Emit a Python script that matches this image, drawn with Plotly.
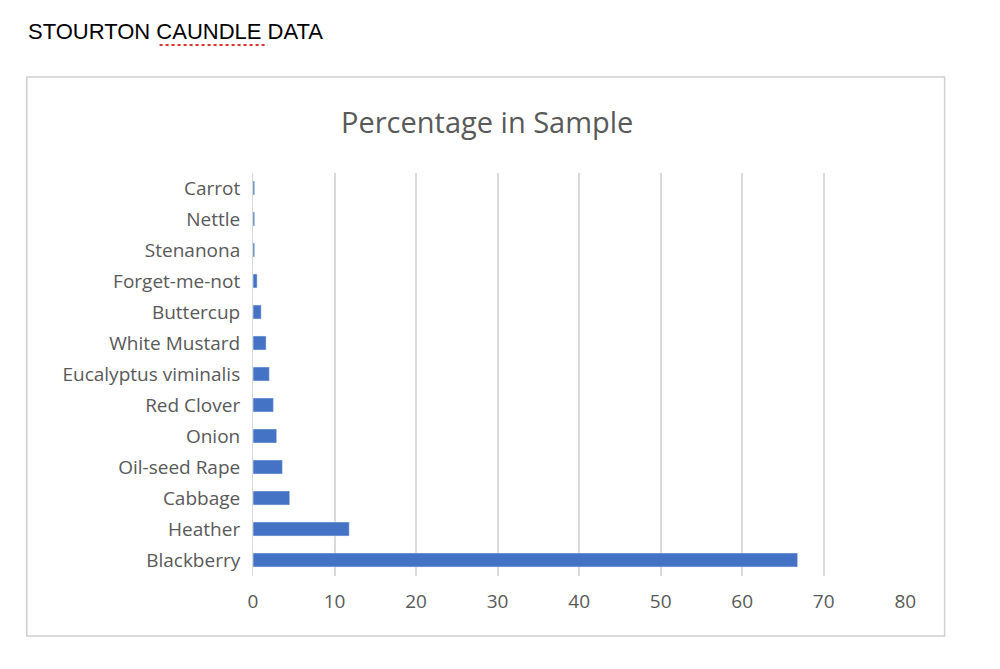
import plotly.graph_objects as go

categories = ["Blackberry", "Heather", "Cabbage", "Oil-seed Rape", "Onion", "Red Clover",
              "Eucalyptus viminalis", "White Mustard", "Buttercup", "Forget-me-not",
              "Stenanona", "Nettle", "Carrot"]
values = [66.8, 11.8, 4.5, 3.6, 2.9, 2.5, 2.0, 1.6, 1.0, 0.5, 0.2, 0.2, 0.2]
x_ticks = [0, 10, 20, 30, 40, 50, 60, 70, 80]

W, H = 984, 653
O = 8  # page offset


def px(x):
    return (x - O) / W


def py(y):
    return 1 - (y - O) / H


fig = go.Figure(go.Bar(x=values, y=categories, orientation="h",
                       marker_color="#4472C4", width=0.45))
fig.update_layout(
    width=W, height=H, margin=dict(l=0, r=0, t=0, b=0),
    paper_bgcolor="white", plot_bgcolor="white", showlegend=False,
    font=dict(family="Open Sans", color="#595959", size=19),
    xaxis=dict(domain=[px(252), px(915)], range=[0, 80], tickvals=x_ticks,
               showgrid=True, gridcolor="#d9d9d9", gridwidth=1.5, zeroline=False,
               ticks="", ticklabelstandoff=12, tickfont=dict(size=19, color="#595959")),
    yaxis=dict(domain=[py(575.5), py(172.5)], categoryorder="array",
               categoryarray=categories, showline=True, linecolor="#d9d9d9",
               ticks="", ticklabelstandoff=8, tickfont=dict(size=19, color="#595959")),
    shapes=[
        dict(type="rect", xref="paper", yref="paper", x0=px(22), x1=px(955),
             y0=py(636), y1=py(77), line=dict(color="#d0d0d0", width=1.5)),
        dict(type="line", xref="paper", yref="paper", x0=px(157), x1=px(267),
             y0=py(45), y1=py(45), line=dict(color="#e03030", width=2, dash="dot")),
    ],
    annotations=[
        dict(text="STOURTON CAUNDLE DATA", xref="paper", yref="paper", x=px(21), y=py(32),
             xanchor="left", yanchor="middle", showarrow=False,
             font=dict(family="Liberation Sans", size=22, color="black")),
        dict(text="Percentage in Sample", xref="paper", yref="paper", x=px(490), y=py(122),
             xanchor="center", yanchor="middle", showarrow=False,
             font=dict(family="Open Sans", size=29, color="#595959")),
    ],
)
fig.write_html("out.html")
